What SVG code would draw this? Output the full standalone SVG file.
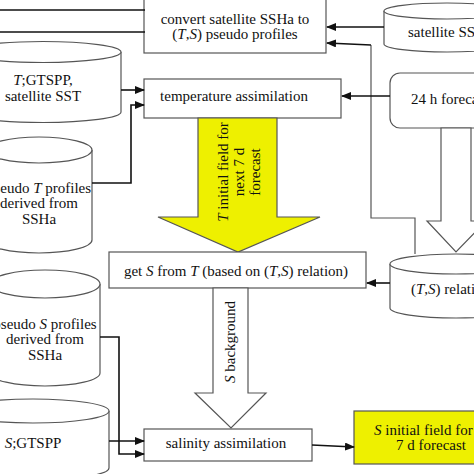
<svg xmlns="http://www.w3.org/2000/svg" width="474" height="474" viewBox="0 0 474 474">
<defs>
<marker id="ah" markerWidth="10" markerHeight="8" refX="9" refY="4" orient="auto" markerUnits="userSpaceOnUse">
<path d="M0,0 L10,4 L0,8 Z" fill="#111"/>
</marker>
<style>
.box{fill:#fff;stroke:#555;stroke-width:1.2}
.yel{fill:#eef000;stroke:#555;stroke-width:1.2}
.hol{fill:#fff;stroke:#555;stroke-width:1.2}
.cyl{fill:#fff;stroke:#555;stroke-width:1.2}
.con{fill:none;stroke:#111;stroke-width:1.6}
text{font-family:"Liberation Serif","DejaVu Serif",serif;font-size:15px;fill:#111}
.m{text-anchor:middle}
.i{font-style:italic}
</style>
</defs>
<rect width="474" height="474" fill="#fff"/>

<g id="convert">
<rect class="box" x="144" y="-5" width="182" height="58"/>
<text class="m" x="235" y="24">convert satellite SSHa to</text>
<text class="m" x="235" y="39">(<tspan class="i">T</tspan>,<tspan class="i">S</tspan>) pseudo profiles</text>
</g>

<g id="satSSHa">
<path class="cyl" d="M384,11 A63,8 0 0 1 510,11 L510,44 A63,8 0 0 1 384,44 Z"/>
<path class="cyl" d="M384,11 A63,8 0 0 0 510,11" fill="none"/>
<text x="408" y="37">satellite SSHa</text>
</g>

<g id="tgtspp">
<path class="cyl" d="M-35,52 A78,10.5 0 0 1 121,52 L121,112 A78,10.5 0 0 1 -35,112 Z"/>
<path class="cyl" d="M-35,52 A78,10.5 0 0 0 121,52" fill="none"/>
<text class="m" x="43" y="85"><tspan class="i">T</tspan>;GTSPP,</text>
<text class="m" x="43" y="101">satellite SST</text>
</g>

<g id="tempassim">
<rect class="box" x="144" y="79" width="197" height="39"/>
<text class="m" x="234" y="101">temperature assimilation</text>
</g>

<g id="forecast24">
<rect class="box" x="390" y="73" width="140" height="55" rx="10"/>
<text x="411" y="104">24 h forecast</text>
</g>

<g id="pseudoT">
<path class="cyl" d="M-14,150 A53,13 0 0 1 92,150 L92,240 A53,13 0 0 1 -14,240 Z"/>
<path class="cyl" d="M-14,150 A53,13 0 0 0 92,150" fill="none"/>
<text class="m" x="39" y="193">pseudo <tspan class="i">T</tspan> profiles</text>
<text class="m" x="39" y="208">derived from</text>
<text class="m" x="39" y="224">SSHa</text>
</g>

<g id="tinit">
<path class="yel" d="M198,118 L277,118 L277,217 L320,217 L238,252 L158,217 L198,217 Z"/>
<text class="m" transform="translate(228,172) rotate(-90)"><tspan x="0" dy="0"><tspan class="i">T</tspan> initial field for</tspan><tspan x="0" dy="16">next 7 d</tspan><tspan x="0" dy="16">forecast</tspan></text>
</g>

<g id="tsrel">
<path class="cyl" d="M390,264 A66,10 0 0 1 522,264 L522,308 A66,10 0 0 1 390,308 Z"/>
<path class="cyl" d="M390,264 A66,10 0 0 0 522,264" fill="none"/>
<text x="411" y="294">(<tspan class="i">T</tspan>,<tspan class="i">S</tspan>) relation</text>
</g>

<g id="fc2ts">
<path class="hol" d="M441,128 L471,128 L471,221 L486,221 L456,252 L427,221 L441,221 Z"/>
</g>

<g id="getS">
<rect class="box" x="109" y="252" width="257" height="36"/>
<text class="m" x="236" y="276">get <tspan class="i">S</tspan> from <tspan class="i">T</tspan> (based on (<tspan class="i">T</tspan>,<tspan class="i">S</tspan>) relation)</text>
</g>

<g id="pseudoS">
<path class="cyl" d="M-10,284 A55,14 0 0 1 100,284 L100,373 A55,13 0 0 1 -10,373 Z"/>
<path class="cyl" d="M-10,284 A55,14 0 0 0 100,284" fill="none"/>
<text class="m" x="45" y="329">pseudo <tspan class="i">S</tspan> profiles</text>
<text class="m" x="45" y="344">derived from</text>
<text class="m" x="45" y="360">SSHa</text>
</g>

<g id="sbg">
<path class="hol" d="M213,288 L248,288 L248,393 L266,393 L231,428 L195,393 L213,393 Z"/>
<text class="m" transform="translate(235,342) rotate(-90)"><tspan class="i">S</tspan> background</text>
</g>

<g id="sgtspp">
<path class="cyl" d="M-43,411 A76,12 0 0 1 109,411 L109,468 A76,12 0 0 1 -43,468 Z"/>
<path class="cyl" d="M-43,411 A76,12 0 0 0 109,411" fill="none"/>
<text class="m" x="33" y="448"><tspan class="i">S</tspan>;GTSPP</text>
</g>

<g id="salassim">
<rect class="box" x="144" y="429" width="168" height="32"/>
<text class="m" x="226" y="448">salinity assimilation</text>
</g>

<g id="sinit">
<rect class="yel" x="354" y="411" width="140" height="53"/>
<text x="374" y="435"><tspan class="i">S</tspan> initial field for</text>
<text x="396" y="450">7 d forecast</text>
</g>

<g id="connectors">
<line class="con" x1="0" y1="10" x2="145" y2="10"/>
<line class="con" x1="0" y1="32" x2="145" y2="32"/>
<line class="con" x1="384" y1="27" x2="327" y2="27" marker-end="url(#ah)"/>
<polyline class="con" style="stroke:#555;stroke-width:1.2" points="415,254 415,218 371,218 371,45"/>
<line class="con" x1="371" y1="45" x2="327" y2="43" marker-end="url(#ah)"/>
<line class="con" x1="390" y1="96" x2="342" y2="96" marker-end="url(#ah)"/>
<line class="con" x1="121" y1="90" x2="144" y2="90" marker-end="url(#ah)"/>
<polyline class="con" points="92,183 131,183 131,105 144,105" marker-end="url(#ah)"/>
<line class="con" x1="390" y1="283" x2="367" y2="283" marker-end="url(#ah)"/>
<polyline class="con" points="100,337 119,337 119,454 144,454" marker-end="url(#ah)"/>
<line class="con" x1="109" y1="441" x2="144" y2="441" marker-end="url(#ah)"/>
<line class="con" x1="312" y1="445" x2="354" y2="447" marker-end="url(#ah)"/>
</g>
</svg>
